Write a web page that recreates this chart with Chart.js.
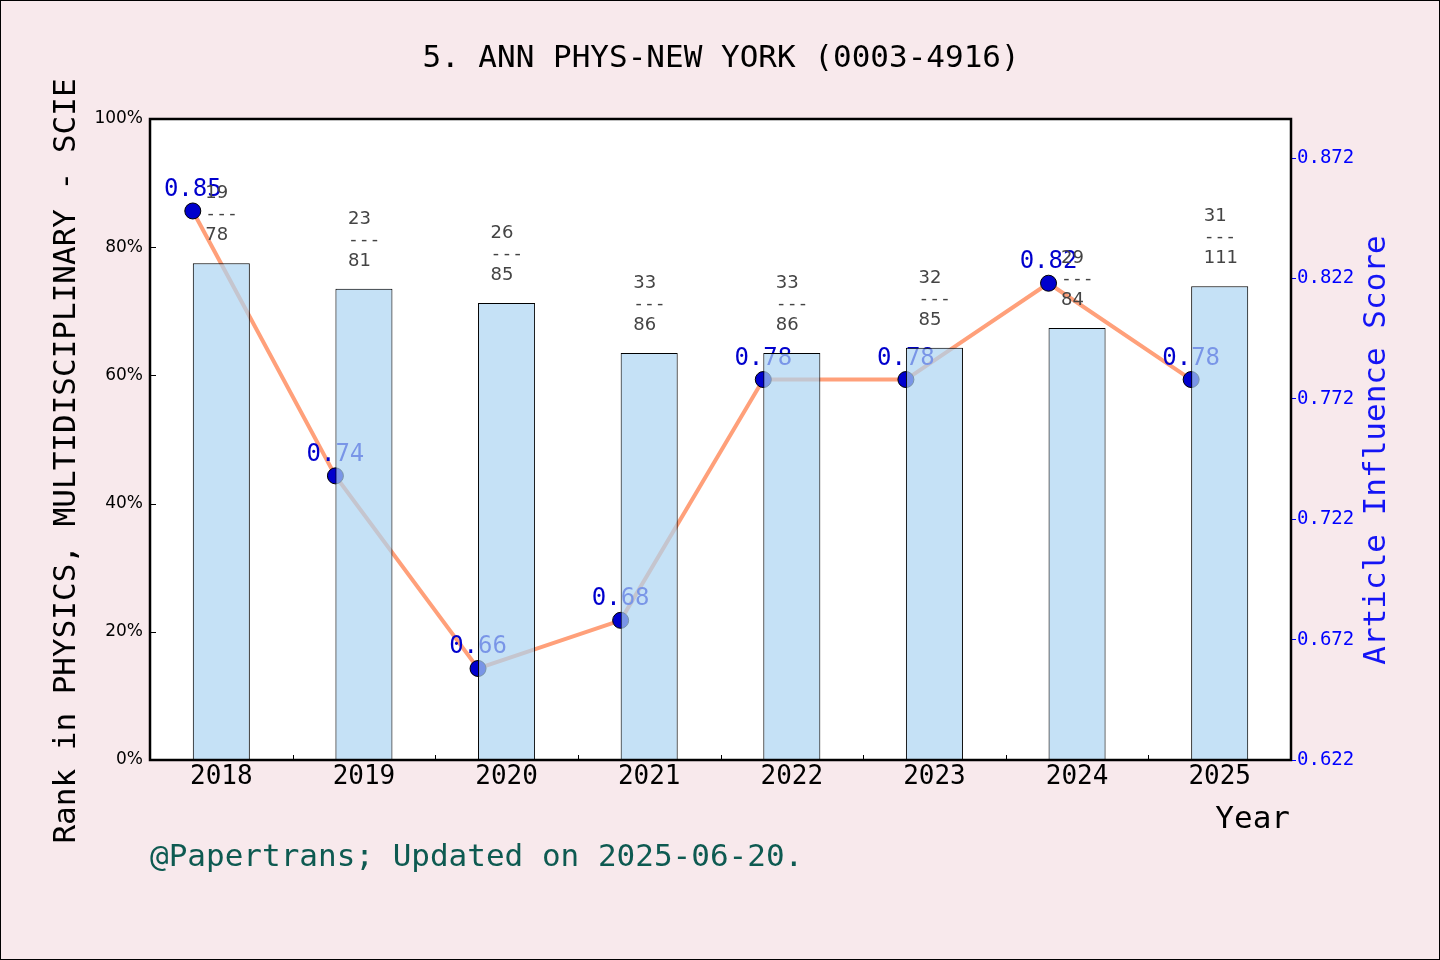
<!DOCTYPE html>
<html>
<head>
<meta charset="utf-8">
<script src="https://cdn.jsdelivr.net/npm/chart.js@4.4.0/dist/chart.umd.min.js"></script>
<style>
  html, body { margin: 0; padding: 0; background: #f8e9ec; }
  canvas { display: block; }
</style>
</head>
<body>
<canvas id="chart" width="1440" height="960"></canvas>
<script>
// ========== Data ==========
const years = ['2018', '2019', '2020', '2021', '2022', '2023', '2024', '2025'];
const rankPct = [77.5, 73.5, 71.3, 63.5, 63.5, 64.3, 67.4, 73.9];
const ranks = [19, 23, 26, 33, 33, 32, 29, 31];
const totals = [78, 81, 85, 86, 86, 85, 84, 111];
const aisScores = [0.85, 0.74, 0.66, 0.68, 0.78, 0.78, 0.82, 0.78];
const pctTicks = [0, 20, 40, 60, 80, 100];
const aisTicks = [0.622, 0.672, 0.722, 0.772, 0.822, 0.872];

const MONO = '"DejaVu Sans Mono", "Liberation Mono", monospace';
const SANS = '"DejaVu Sans", "Noto Sans", sans-serif';

// ========== Decorations ==========
const decor = {
  id: 'decor',
  beforeDraw(chart) {
    const { ctx, chartArea: a } = chart;
    ctx.save();
    ctx.fillStyle = '#f8e9ec';
    ctx.fillRect(0, 0, chart.width, chart.height);
    ctx.fillStyle = '#ffffff';
    ctx.fillRect(a.left, a.top, a.right - a.left, a.bottom - a.top);
    ctx.restore();
  },
  afterDatasetDraw(chart, args) {
    // score labels sit under the bars, so draw them right after the line
    if (args.index !== 1) return;
    const { ctx } = chart;
    ctx.save();
    ctx.font = '24px ' + MONO;
    ctx.fillStyle = '#0000cd';
    ctx.textAlign = 'center';
    ctx.textBaseline = 'alphabetic';
    args.meta.data.forEach((pt, i) => {
      ctx.fillText(aisScores[i].toFixed(2), pt.x, pt.y - 15);
    });
    ctx.restore();
  },
  afterDatasetsDraw(chart) {
    const { ctx } = chart;
    const meta = chart.getDatasetMeta(0);
    ctx.save();
    ctx.fillStyle = '#444444';
    ctx.textAlign = 'left';
    ctx.textBaseline = 'alphabetic';
    meta.data.forEach((bar, i) => {
      const left = bar.x - 16;
      const top = bar.y;
      ctx.font = '18px ' + SANS;
      ctx.fillText(String(ranks[i]), left, top - 65);
      ctx.fillText(String(totals[i]), left, top - 23);
      ctx.font = '18px ' + MONO;
      ctx.fillText('---', left, top - 44);
    });
    ctx.restore();
  },
  afterDraw(chart) {
    const { ctx, chartArea: a } = chart;
    const xs = chart.scales.x;
    const yl = chart.scales.yRank;
    ctx.save();

    // frame
    ctx.strokeStyle = '#000';
    ctx.lineWidth = 2.5;
    ctx.strokeRect(a.left, a.top, a.right - a.left, a.bottom - a.top);

    // inward ticks
    ctx.lineWidth = 1;
    pctTicks.forEach(v => {
      const y = Math.round(yl.getPixelForValue(v)) + 0.5;
      ctx.beginPath(); ctx.moveTo(a.left, y); ctx.lineTo(a.left + 6, y); ctx.stroke();
    });
    for (let i = 0; i < years.length - 1; i++) {
      const x = Math.round(xs.getPixelForValue(i + 0.5)) + 0.5;
      ctx.beginPath(); ctx.moveTo(x, a.bottom); ctx.lineTo(x, a.bottom - 5); ctx.stroke();
    }

    // title
    ctx.fillStyle = '#000';
    ctx.font = '31px ' + MONO;
    ctx.textAlign = 'center';
    ctx.textBaseline = 'alphabetic';
    ctx.fillText('5. ANN PHYS-NEW YORK (0003-4916)', 721, 67);

    // left axis title
    ctx.save();
    ctx.translate(75, 461);
    ctx.rotate(-Math.PI / 2);
    ctx.fillText('Rank in PHYSICS, MULTIDISCIPLINARY - SCIE', 0, 0);
    ctx.restore();

    // right axis title
    ctx.save();
    ctx.translate(1385, 450);
    ctx.rotate(-Math.PI / 2);
    ctx.fillStyle = '#1414f5';
    ctx.fillText('Article Influence Score', 0, 0);
    ctx.restore();

    // x axis title
    ctx.textAlign = 'right';
    ctx.fillText('Year', 1290, 828);

    // footer
    ctx.textAlign = 'left';
    ctx.fillStyle = '#0e5a51';
    ctx.fillText('@Papertrans; Updated on 2025-06-20.', 150, 866);

    // figure border
    ctx.strokeStyle = '#000';
    ctx.lineWidth = 1;
    ctx.strokeRect(0.5, 0.5, chart.width - 1, chart.height - 1);
    ctx.restore();
  }
};

// ========== Chart ==========
new Chart(document.getElementById('chart'), {
  data: {
    datasets: [
      {
        type: 'bar',
        label: 'Rank',
        data: rankPct.map((v, i) => ({ x: i, y: v })),
        xAxisID: 'x',
        yAxisID: 'yRank',
        backgroundColor: 'rgba(172, 212, 242, 0.7)',
        borderColor: '#000',
        borderWidth: 1,
        borderSkipped: false,
        barPercentage: 0.4,
        categoryPercentage: 1.0,
        order: 0
      },
      {
        type: 'line',
        label: 'AIS',
        data: aisScores.map((v, i) => ({ x: i - 0.2, y: v })),
        xAxisID: 'x',
        yAxisID: 'yAis',
        borderColor: '#ffa07a',
        borderWidth: 4,
        pointRadius: 8,
        pointBackgroundColor: '#0000cd',
        pointBorderColor: '#000',
        pointBorderWidth: 1,
        tension: 0,
        order: 1
      }
    ]
  },
  options: {
    responsive: false,
    animation: false,
    devicePixelRatio: 1,
    layout: { padding: { top: 119, left: 0, right: 0, bottom: 0 } },
    plugins: {
      legend: { display: false },
      tooltip: { enabled: false }
    },
    scales: {
      x: {
        type: 'linear',
        min: -0.5,
        max: 7.5,
        offset: false,
        afterBuildTicks: s => { s.ticks = years.map((y, i) => ({ value: i })); },
        afterFit: s => { s.height = 200; },
        ticks: {
          callback: (v, idx) => years[idx],
          font: { family: MONO, size: 26 },
          color: '#000',
          padding: 2,
          autoSkip: false,
          maxRotation: 0
        },
        grid: { display: false, drawTicks: false, offset: false },
        border: { display: false }
      },
      yRank: {
        type: 'linear',
        position: 'left',
        min: 0,
        max: 100,
        afterBuildTicks: s => { s.ticks = pctTicks.map(v => ({ value: v })); },
        afterFit: s => { s.width = 150; },
        ticks: {
          callback: v => v + '%',
          font: { family: SANS, size: 17 },
          color: '#000',
          padding: 7
        },
        grid: { display: false, drawTicks: false },
        border: { display: false }
      },
      yAis: {
        type: 'linear',
        position: 'right',
        min: 0.622,
        max: 0.8882,
        afterBuildTicks: s => { s.ticks = aisTicks.map(v => ({ value: v })); },
        afterFit: s => { s.width = 149; },
        ticks: {
          callback: v => v.toFixed(3),
          font: { family: MONO, size: 19 },
          color: '#0000ff',
          padding: 1
        },
        grid: { display: true, drawOnChartArea: false, drawTicks: true, tickLength: 5, color: '#0000ff' },
        border: { display: false }
      }
    }
  },
  plugins: [decor]
});
</script>
</body>
</html>
